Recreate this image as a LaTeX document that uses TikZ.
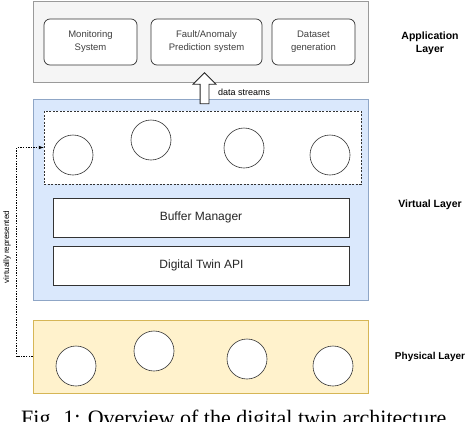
\documentclass[tikz,border=0pt]{standalone}
\usepackage{fontspec}
\setmainfont{Liberation Sans}
\newfontfamily\captionfont{Liberation Serif}
\usepackage{tikz}
\usetikzlibrary{shapes,arrows}
\definecolor{app_fill}{HTML}{F5F5F5}
\definecolor{app_draw}{HTML}{9A9A9A}
\definecolor{virt_fill}{HTML}{DAE8FC}
\definecolor{virt_draw}{HTML}{8FA6C6}
\definecolor{phys_fill}{HTML}{FFF2CC}
\definecolor{phys_draw}{HTML}{D6B656}
\definecolor{box_draw}{HTML}{333333}

\begin{document}
\begin{tikzpicture}[x=1pt,y=-1pt,
    layer/.style ={rectangle, draw, line width=0.8pt, minimum width=335pt},
    block_round/.style ={rectangle, rounded corners=6pt, draw=box_draw, fill=white,
      line width=0.7pt, text width=6em, align=center, minimum height=46pt,
      inner sep=1pt, font=\fontsize{9.5}{13}\selectfont, text=black!75},
    block_wide/.style ={rectangle, draw=box_draw, fill=white, line width=0.7pt,
      minimum width=296pt, minimum height=39pt,
      font=\fontsize{12}{14}\selectfont, text=black!85},
    thing/.style ={circle, draw=black!80, fill=white, line width=0.6pt,
      minimum size=40pt, inner sep=0pt},
    layer_label/.style ={align=center, font=\bfseries\fontsize{10.5}{13}\selectfont},
    line/.style ={draw, line width=0.7pt, dash pattern=on 1.4pt off 1.2pt, -latex}]
    \useasboundingbox (0,0) rectangle (474,421);
    % application layer
    \node [layer, draw=app_draw, fill=app_fill, minimum height=81pt] (app_layer) at (200.5,41.5) {};
    \node [block_round, minimum width=93pt] (monitoring) at (90.5,42) {Monitoring\\System};
    \node [block_round, minimum width=111pt, text width=8em] (fault_pred) at (206.5,42) {Fault/Anomaly\\Prediction system};
    \node [block_round, minimum width=83pt] (dataset_gen) at (313.5,42) {Dataset\\generation};
    \node [layer_label] (app_label) at (430,43) {Application\\Layer};
    % virtual layer
    \node [layer, draw=virt_draw, fill=virt_fill, minimum height=201pt] (virtual_layer) at (200.5,199.5) {};
    \node [rectangle, draw=black!80, fill=white, line width=0.7pt, dash pattern=on 2pt off 1.5pt,
      minimum width=317pt, minimum height=73pt] (virtual_objects) at (202.5,147.5) {};
    \node [thing] (v1) at (73,155) {};
    \node [thing] (v2) at (151,140) {};
    \node [thing] (v3) at (244,148) {};
    \node [thing] (v4) at (330,155) {};
    \node [block_wide] (buffer_manager) at (201,217.5) {Buffer Manager};
    \node [block_wide] (dt_api) at (201.5,265.5) {Digital Twin API};
    \node [layer_label] (virt_label) at (430,205) {Virtual Layer};
    % physical layer
    \node [layer, draw=phys_draw, fill=phys_fill, minimum height=73pt] (physical_layer) at (200.5,356.5) {};
    \node [thing] (p1) at (76,366) {};
    \node [thing] (p2) at (154,351) {};
    \node [thing] (p3) at (247,359) {};
    \node [thing] (p4) at (333,366) {};
    \node [layer_label, font=\bfseries\fontsize{10}{12}\selectfont] (phys_label) at (430,357) {Physical Layer};
    % data streams arrow between the layers
    \node [single arrow, draw=black!85, fill=white, line width=0.8pt, rotate=90,
      minimum height=31pt, single arrow head extend=7pt,
      single arrow tip angle=90, inner sep=4pt] (data_arrow) at (204.5,90.5) {};
    \node [anchor=west, inner sep=0pt, font=\fontsize{9}{11}\selectfont] (data_label) at (218,92) {data streams};
    % virtual representation link
    \path [line] (physical_layer.west) -- ++(-16,0) coordinate (vr_corner) |- (virtual_objects.west);
    \node [rotate=90, inner sep=0pt, font=\fontsize{8}{10}\selectfont] (vr_label) at (7,247) {virtually represented};
    % caption
    \node [anchor=base west, inner sep=0pt, font=\captionfont\fontsize{22}{24}\selectfont] (caption) at (21,425.6) {Fig. 1: Overview of the digital twin architecture.};
  \end{tikzpicture}
\end{document}
